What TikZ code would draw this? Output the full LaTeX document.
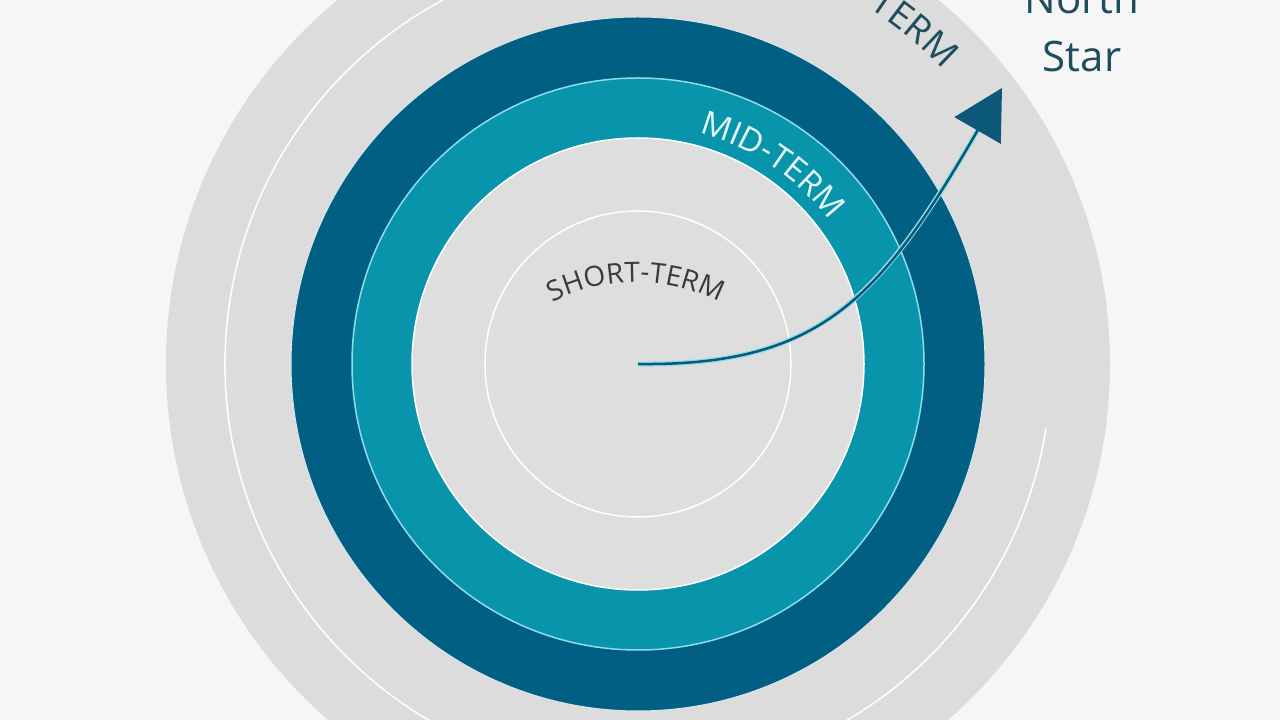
\documentclass[tikz,border=0pt]{standalone}
\usepackage{fontspec}
\newfontfamily\osans{Open Sans}
\usetikzlibrary{arrows.meta,decorations.text}
\definecolor{bg}{HTML}{F6F6F6}
\definecolor{ringgray}{HTML}{DCDCDC}
\definecolor{diskgray}{HTML}{DEDEDE}
\definecolor{darkblue}{HTML}{005F82}
\definecolor{teal}{HTML}{0894AA}
\definecolor{sep}{HTML}{8FDCEA}
\definecolor{arrowblue}{HTML}{0B5878}
\definecolor{halo}{HTML}{8FDDEA}
\definecolor{labeldark}{HTML}{1E4E5E}
\definecolor{midtxt}{HTML}{E6F7FA}
\definecolor{shorttxt}{HTML}{3A3A3A}
\tikzset{
  whiteline/.style={draw=white, line width=1.5pt},
}
\begin{document}
\begin{tikzpicture}[x=1pt,y=1pt]
\useasboundingbox (0,0) rectangle (1280,720);
\clip (0,0) rectangle (1280,720);
\fill[bg] (0,0) rectangle (1280,720);
\coordinate (c) at (638,356);
% outer gray ring
\fill[ringgray] (c) circle[radius=472];
\draw[whiteline] (c) ++(80:413) arc[start angle=80, end angle=351, radius=413];
% dark blue ring
\filldraw[fill=darkblue, draw=white!85!darkblue, line width=1pt] (c) circle[radius=347];
% teal ring
\filldraw[fill=teal, draw=sep, line width=1.5pt] (c) circle[radius=286];
% inner disk
\filldraw[fill=diskgray, draw=white, line width=1.5pt] (c) circle[radius=226];
\draw[whiteline] (c) circle[radius=153];
% labels on rings
\path[decorate, decoration={text along path, text align=center,
  text={|\osans\fontsize{28}{28}\selectfont\color{shorttxt}|SHORT-TERM}}]
  (636,257) ++(125:181) arc[start angle=125, end angle=55, radius=181];
\path[decorate, decoration={text along path, text align=center,
  text={|\osans\fontsize{33}{33}\selectfont\color{midtxt}|MID-TERM}}]
  (c) ++(96:239) arc[start angle=96, end angle=16, radius=239];
\path[decorate, decoration={text along path, text align=right,
  text={|\osans\fontsize{37}{37}\selectfont\color{labeldark}|LONG-TERM}}]
  (c) ++(140:424) arc[start angle=140, end angle=44, radius=424];
% arrow
\coordinate (tip) at (1002,632);
\draw[halo, line width=5pt, shorten >=42pt] (c) .. controls (820,354) and (880,420) .. (tip);
\draw[arrowblue, line width=2.5pt, -{Triangle[length=49pt, width=53pt]}]
  (c) .. controls (820,354) and (880,420) .. (tip);
% North Star
\node[font=\osans\fontsize{42}{58}\selectfont, text=labeldark, align=center, anchor=base]
  (ns) at (1082,648) {North\\Star};
\end{tikzpicture}
\end{document}
